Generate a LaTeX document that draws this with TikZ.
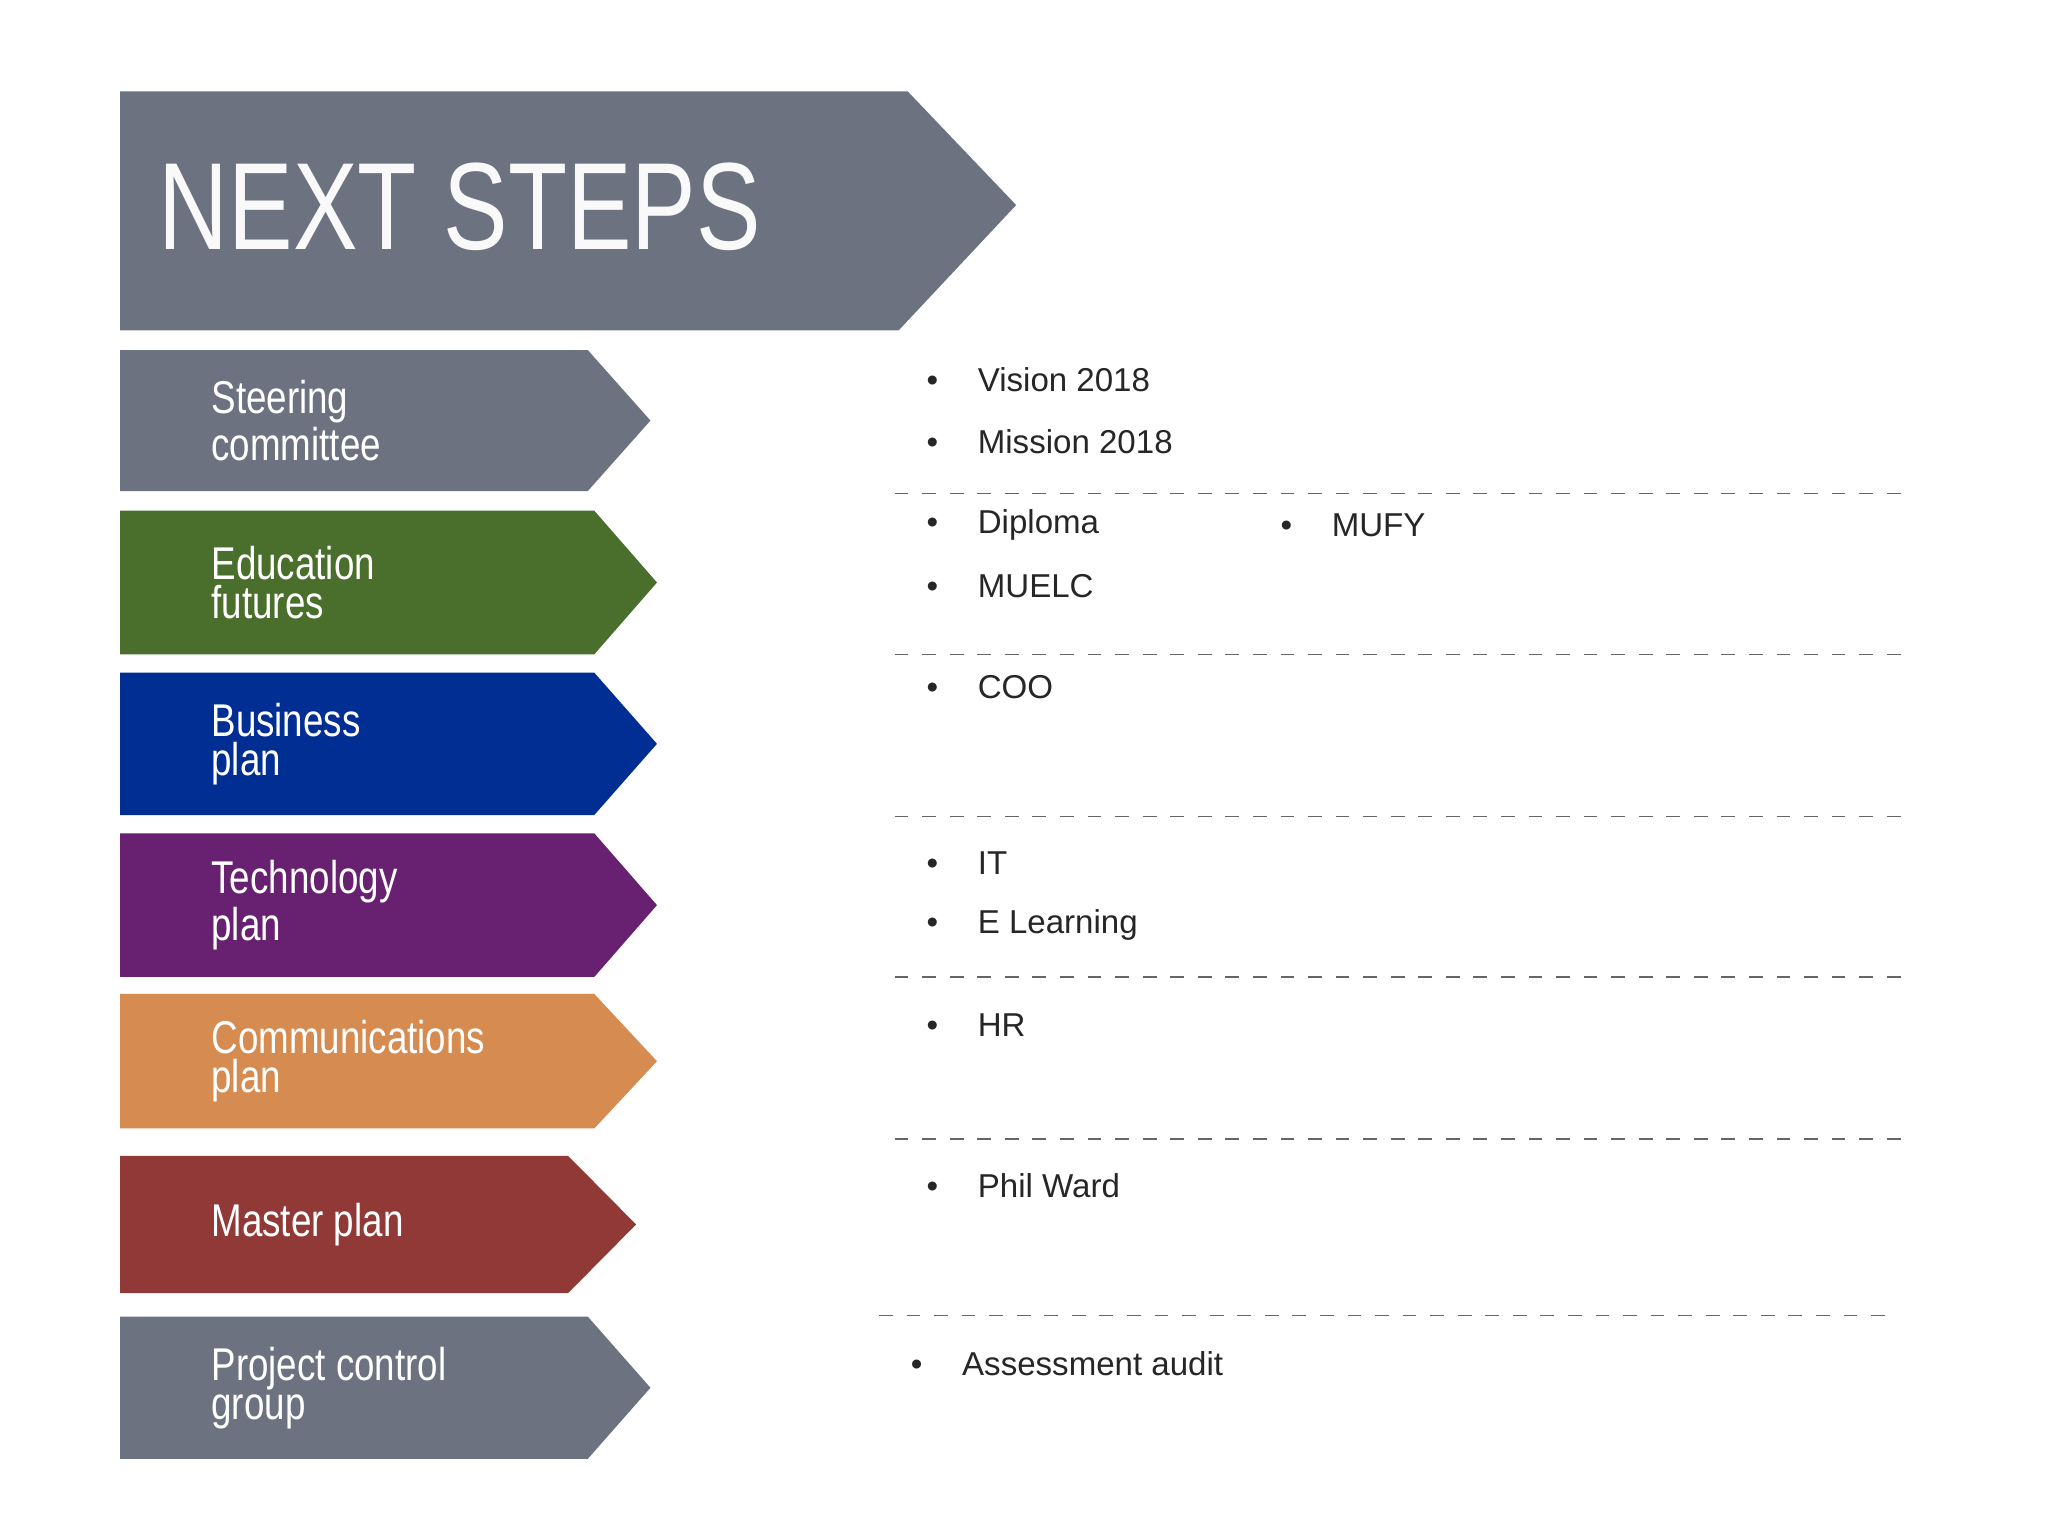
\documentclass[tikz,border=0pt]{standalone}
\usepackage{fontspec}
\setmainfont{Liberation Sans}
\definecolor{cgray}{RGB}{108,114,128}
\definecolor{cgreen}{RGB}{74,110,44}
\definecolor{cblue}{RGB}{0,46,146}
\definecolor{cpurple}{RGB}{104,33,112}
\definecolor{corange}{RGB}{214,139,80}
\definecolor{cred}{RGB}{145,57,55}
\begin{document}
\begin{tikzpicture}[x=0.01cm,y=-0.01cm,
  lab/.style={anchor=west,text=white,font=\fontsize{10}{8.5}\selectfont,xscale=0.8,align=left},
  item/.style={anchor=west,font=\fontsize{7.2}{9}\selectfont,text=black!85},
  sep/.style={draw=black!60,dashed,line width=0.3pt}]
\useasboundingbox (0,0) rectangle (1568,1176);
\fill[cgray] (92,70) -- (695,70) -- (778,157) -- (688,253) -- (92,253) -- cycle;
\node[anchor=west,text=white!95!gray,font=\fontsize{27}{27}\selectfont,xscale=0.78] (hd) at (112,158) {NEXT STEPS};
\foreach \n/\c/\t/\b/\r/\tip/\txt in {
  a/cgray/268/376/450/498/{Steering\\committee},
  b/cgreen/391/501/455/503/{Education\\futures},
  c/cblue/515/624/455/503/{Business\\plan},
  d/cpurple/638/748/455/503/{Technology\\plan},
  e/corange/761/864/455/503/{Communications\\plan},
  f/cred/885/990/435/487/{Master plan},
  g/cgray/1008/1117/450/498/{Project control\\group}}{
  \fill[\c] (92,\t) -- (\r,\t) -- (\tip,{(\t+\b)/2}) -- (\r,\b) -- (92,\b) -- cycle;
  \node[lab] (\n) at (152,{(\t+\b)/2}) {\txt};
}
\foreach \y in {378,501,625,748,872}{\draw[sep] (685,\y) -- (1460,\y);}
\draw[sep] (673,1007) -- (1448,1007);
\node[item] (i1) at (697,291) {•\hspace{1.2em}Vision 2018};
\node[item] (i2) at (697,338) {•\hspace{1.2em}Mission 2018};
\node[item] (i3) at (697,402) {•\hspace{1.2em}Diploma};
\node[item] (i4) at (968,402) {•\hspace{1.2em}MUFY};
\node[item] (i5) at (697,449) {•\hspace{1.2em}MUELC};
\node[item] (i6) at (697,526) {•\hspace{1.2em}COO};
\node[item] (i7) at (697,661) {•\hspace{1.2em}IT};
\node[item] (i8) at (697,708) {•\hspace{1.2em}E Learning};
\node[item] (i9) at (697,785) {•\hspace{1.2em}HR};
\node[item] (i10) at (697,908) {•\hspace{1.2em}Phil Ward};
\node[item] (i11) at (685,1044) {•\hspace{1.2em}Assessment audit};
\end{tikzpicture}
\end{document}
